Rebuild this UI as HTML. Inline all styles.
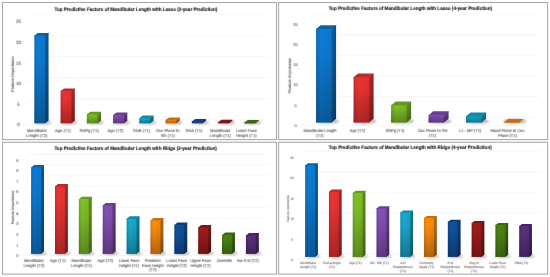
<!DOCTYPE html><html><head><meta charset="utf-8"><title>Top Predictive Factors of Mandibular Length</title>
<style>html,body{margin:0;padding:0;background:#fff}svg{display:block}text{font-family:"Liberation Sans",Arial,sans-serif;text-rendering:geometricPrecision;paint-order:stroke}</style></head><body>
<svg width="550" height="277" viewBox="0 0 550 277">
<defs><filter id="sh" x="-50%" y="-200%" width="200%" height="500%"><feGaussianBlur stdDeviation="1.1"/></filter>
<linearGradient id="g0" x1="0" y1="0" x2="1" y2="0"><stop offset="0" stop-color="#0c6bb8"/><stop offset="0.3" stop-color="#0e7cd6"/><stop offset="1" stop-color="#0d76cb"/></linearGradient><linearGradient id="s0" x1="0" y1="0" x2="1" y2="0"><stop offset="0" stop-color="#0b61a7"/><stop offset="1" stop-color="#094f89"/></linearGradient>
<linearGradient id="g1" x1="0" y1="0" x2="1" y2="0"><stop offset="0" stop-color="#cd2d2d"/><stop offset="0.3" stop-color="#ee3434"/><stop offset="1" stop-color="#e23131"/></linearGradient><linearGradient id="s1" x1="0" y1="0" x2="1" y2="0"><stop offset="0" stop-color="#ba2929"/><stop offset="1" stop-color="#982121"/></linearGradient>
<linearGradient id="g2" x1="0" y1="0" x2="1" y2="0"><stop offset="0" stop-color="#6ea722"/><stop offset="0.3" stop-color="#80c228"/><stop offset="1" stop-color="#7ab826"/></linearGradient><linearGradient id="s2" x1="0" y1="0" x2="1" y2="0"><stop offset="0" stop-color="#64971f"/><stop offset="1" stop-color="#527c1a"/></linearGradient>
<linearGradient id="g3" x1="0" y1="0" x2="1" y2="0"><stop offset="0" stop-color="#73459d"/><stop offset="0.3" stop-color="#8650b6"/><stop offset="1" stop-color="#7f4cad"/></linearGradient><linearGradient id="s3" x1="0" y1="0" x2="1" y2="0"><stop offset="0" stop-color="#693e8e"/><stop offset="1" stop-color="#563374"/></linearGradient>
<linearGradient id="g4" x1="0" y1="0" x2="1" y2="0"><stop offset="0" stop-color="#1594b3"/><stop offset="0.3" stop-color="#18acd0"/><stop offset="1" stop-color="#17a3c6"/></linearGradient><linearGradient id="s4" x1="0" y1="0" x2="1" y2="0"><stop offset="0" stop-color="#1386a2"/><stop offset="1" stop-color="#0f6e85"/></linearGradient>
<linearGradient id="g5" x1="0" y1="0" x2="1" y2="0"><stop offset="0" stop-color="#da7a0e"/><stop offset="0.3" stop-color="#fe8e10"/><stop offset="1" stop-color="#f1870f"/></linearGradient><linearGradient id="s5" x1="0" y1="0" x2="1" y2="0"><stop offset="0" stop-color="#c66f0c"/><stop offset="1" stop-color="#a35b0a"/></linearGradient>
<linearGradient id="g6" x1="0" y1="0" x2="1" y2="0"><stop offset="0" stop-color="#0e4788"/><stop offset="0.3" stop-color="#10529e"/><stop offset="1" stop-color="#0f4e96"/></linearGradient><linearGradient id="s6" x1="0" y1="0" x2="1" y2="0"><stop offset="0" stop-color="#0c407b"/><stop offset="1" stop-color="#0a3465"/></linearGradient>
<linearGradient id="g7" x1="0" y1="0" x2="1" y2="0"><stop offset="0" stop-color="#8a1818"/><stop offset="0.3" stop-color="#a01c1c"/><stop offset="1" stop-color="#981b1b"/></linearGradient><linearGradient id="s7" x1="0" y1="0" x2="1" y2="0"><stop offset="0" stop-color="#7d1616"/><stop offset="1" stop-color="#661212"/></linearGradient>
<linearGradient id="g8" x1="0" y1="0" x2="1" y2="0"><stop offset="0" stop-color="#437211"/><stop offset="0.3" stop-color="#4e8414"/><stop offset="1" stop-color="#4a7d13"/></linearGradient><linearGradient id="s8" x1="0" y1="0" x2="1" y2="0"><stop offset="0" stop-color="#3d6710"/><stop offset="1" stop-color="#32540d"/></linearGradient>
<linearGradient id="g9" x1="0" y1="0" x2="1" y2="0"><stop offset="0" stop-color="#4d296e"/><stop offset="0.3" stop-color="#5a3080"/><stop offset="1" stop-color="#562e7a"/></linearGradient><linearGradient id="s9" x1="0" y1="0" x2="1" y2="0"><stop offset="0" stop-color="#462564"/><stop offset="1" stop-color="#3a1f52"/></linearGradient>
<filter id="tb" x="-5%" y="-30%" width="110%" height="160%"><feGaussianBlur stdDeviation="0.6"/></filter>
<linearGradient id="dk" x1="0" y1="0" x2="0" y2="1"><stop offset="0" stop-color="#000" stop-opacity="0"/><stop offset="0.3" stop-color="#000" stop-opacity="0.03"/><stop offset="1" stop-color="#000" stop-opacity="0.28"/></linearGradient>
<filter id="soft" x="0" y="0" width="550" height="277" filterUnits="userSpaceOnUse" color-interpolation-filters="sRGB"><feConvolveMatrix order="3" kernelMatrix="0 1 0 1 5 1 0 1 0" divisor="9" edgeMode="duplicate" preserveAlpha="false"/></filter>
<filter id="soft2" x="0" y="0" width="550" height="277" filterUnits="userSpaceOnUse" color-interpolation-filters="sRGB"><feConvolveMatrix order="3" kernelMatrix="0 1 0 1 8 1 0 1 0" divisor="12" edgeMode="duplicate" preserveAlpha="false"/></filter>
</defs>
<rect width="550" height="277" fill="#fff"/>
<rect x="2.5" y="2.5" width="274" height="137.1" fill="#fff" stroke="#a8a8a8" stroke-width="1.05"/>
<rect x="278.6" y="2.5" width="269" height="137.1" fill="#fff" stroke="#a8a8a8" stroke-width="1.05"/>
<rect x="2.5" y="142.25" width="274" height="131.85" fill="#fff" stroke="#a8a8a8" stroke-width="1.05"/>
<rect x="278.6" y="142.25" width="269" height="131.85" fill="#fff" stroke="#a8a8a8" stroke-width="1.05"/>
<path d="M23.70 124.90 L32.70 119.80 L268.50 119.80" fill="none" stroke="#efefef" stroke-width="0.5"/>
<path d="M23.70 104.35 L32.70 98.70 L268.50 98.70" fill="none" stroke="#efefef" stroke-width="0.5"/>
<path d="M23.70 83.80 L32.70 77.60 L268.50 77.60" fill="none" stroke="#efefef" stroke-width="0.5"/>
<path d="M23.70 63.25 L32.70 56.50 L268.50 56.50" fill="none" stroke="#efefef" stroke-width="0.5"/>
<path d="M23.70 42.70 L32.70 35.40 L268.50 35.40" fill="none" stroke="#efefef" stroke-width="0.5"/>
<path d="M23.70 22.15 L32.70 14.30 L268.50 14.30" fill="none" stroke="#efefef" stroke-width="0.5"/>
<path d="M23.70 124.90 L259.50 124.90" fill="none" stroke="#efefef" stroke-width="0.5"/>
<ellipse cx="42.65" cy="122.55" rx="8.70" ry="1.75" fill="#5a4a42" opacity="0.42" filter="url(#sh)"/>
<path d="M34.35 36.20 L34.35 35.60 L37.85 33.10 L48.55 33.10 L48.55 33.70 L45.05 36.20Z" fill="#0b62a9"/>
<path d="M44.35 35.60 L45.05 35.60 L48.55 33.10 L48.55 120.80 L45.05 123.30 L44.35 123.30Z" fill="url(#s0)"/>
<rect x="34.35" y="35.60" width="10.70" height="87.70" fill="url(#g0)"/>
<path d="M34.35 35.60 L45.05 35.60 L48.55 33.10 L48.55 120.80 L45.05 123.30 L34.35 123.30Z" fill="url(#dk)"/>
<ellipse cx="68.90" cy="122.55" rx="8.70" ry="1.75" fill="#5a4a42" opacity="0.42" filter="url(#sh)"/>
<path d="M60.60 91.50 L60.60 90.90 L64.10 88.40 L74.80 88.40 L74.80 89.00 L71.30 91.50Z" fill="#bc2929"/>
<path d="M70.60 90.90 L71.30 90.90 L74.80 88.40 L74.80 120.80 L71.30 123.30 L70.60 123.30Z" fill="url(#s1)"/>
<rect x="60.60" y="90.90" width="10.70" height="32.40" fill="url(#g1)"/>
<path d="M60.60 90.90 L71.30 90.90 L74.80 88.40 L74.80 120.80 L71.30 123.30 L60.60 123.30Z" fill="url(#dk)"/>
<ellipse cx="95.15" cy="122.55" rx="8.70" ry="1.75" fill="#5a4a42" opacity="0.42" filter="url(#sh)"/>
<path d="M86.85 114.90 L86.85 114.30 L90.35 111.80 L101.05 111.80 L101.05 112.40 L97.55 114.90Z" fill="#659920"/>
<path d="M96.85 114.30 L97.55 114.30 L101.05 111.80 L101.05 120.80 L97.55 123.30 L96.85 123.30Z" fill="url(#s2)"/>
<rect x="86.85" y="114.30" width="10.70" height="9.00" fill="url(#g2)"/>
<path d="M86.85 114.30 L97.55 114.30 L101.05 111.80 L101.05 120.80 L97.55 123.30 L86.85 123.30Z" fill="url(#dk)"/>
<ellipse cx="121.40" cy="122.55" rx="8.70" ry="1.75" fill="#5a4a42" opacity="0.42" filter="url(#sh)"/>
<path d="M113.10 115.60 L113.10 115.00 L116.60 112.50 L127.30 112.50 L127.30 113.10 L123.80 115.60Z" fill="#6a3f90"/>
<path d="M123.10 115.00 L123.80 115.00 L127.30 112.50 L127.30 120.80 L123.80 123.30 L123.10 123.30Z" fill="url(#s3)"/>
<rect x="113.10" y="115.00" width="10.70" height="8.30" fill="url(#g3)"/>
<path d="M113.10 115.00 L123.80 115.00 L127.30 112.50 L127.30 120.80 L123.80 123.30 L113.10 123.30Z" fill="url(#dk)"/>
<ellipse cx="147.65" cy="122.55" rx="8.70" ry="1.75" fill="#5a4a42" opacity="0.42" filter="url(#sh)"/>
<path d="M139.35 118.60 L139.35 118.00 L142.85 115.50 L153.55 115.50 L153.55 116.10 L150.05 118.60Z" fill="#1388a4"/>
<path d="M149.35 118.00 L150.05 118.00 L153.55 115.50 L153.55 120.80 L150.05 123.30 L149.35 123.30Z" fill="url(#s4)"/>
<rect x="139.35" y="118.00" width="10.70" height="5.30" fill="url(#g4)"/>
<path d="M139.35 118.00 L150.05 118.00 L153.55 115.50 L153.55 120.80 L150.05 123.30 L139.35 123.30Z" fill="url(#dk)"/>
<ellipse cx="173.90" cy="122.55" rx="8.70" ry="1.75" fill="#5a4a42" opacity="0.42" filter="url(#sh)"/>
<path d="M165.60 120.60 L165.60 120.00 L169.10 117.50 L179.80 117.50 L179.80 118.10 L176.30 120.60Z" fill="#c9700d"/>
<path d="M175.60 120.00 L176.30 120.00 L179.80 117.50 L179.80 120.80 L176.30 123.30 L175.60 123.30Z" fill="url(#s5)"/>
<rect x="165.60" y="120.00" width="10.70" height="3.30" fill="url(#g5)"/>
<path d="M165.60 120.00 L176.30 120.00 L179.80 117.50 L179.80 120.80 L176.30 123.30 L165.60 123.30Z" fill="url(#dk)"/>
<ellipse cx="200.15" cy="122.55" rx="8.70" ry="1.75" fill="#5a4a42" opacity="0.42" filter="url(#sh)"/>
<path d="M191.85 122.00 L191.85 121.40 L195.35 118.90 L206.05 118.90 L206.05 119.50 L202.55 122.00Z" fill="#0d417d"/>
<path d="M201.85 121.40 L202.55 121.40 L206.05 118.90 L206.05 120.80 L202.55 123.30 L201.85 123.30Z" fill="url(#s6)"/>
<rect x="191.85" y="121.40" width="10.70" height="1.90" fill="url(#g6)"/>
<path d="M191.85 121.40 L202.55 121.40 L206.05 118.90 L206.05 120.80 L202.55 123.30 L191.85 123.30Z" fill="url(#dk)"/>
<ellipse cx="226.40" cy="122.55" rx="8.70" ry="1.75" fill="#5a4a42" opacity="0.42" filter="url(#sh)"/>
<path d="M218.10 122.90 L218.10 122.30 L221.60 119.80 L232.30 119.80 L232.30 120.40 L228.80 122.90Z" fill="#7e1616"/>
<path d="M228.10 122.30 L228.80 122.30 L232.30 119.80 L232.30 120.80 L228.80 123.30 L228.10 123.30Z" fill="url(#s7)"/>
<rect x="218.10" y="122.30" width="10.70" height="1.00" fill="url(#g7)"/>
<path d="M218.10 122.30 L228.80 122.30 L232.30 119.80 L232.30 120.80 L228.80 123.30 L218.10 123.30Z" fill="url(#dk)"/>
<ellipse cx="252.65" cy="122.55" rx="8.70" ry="1.75" fill="#5a4a42" opacity="0.42" filter="url(#sh)"/>
<path d="M244.35 123.20 L244.35 122.60 L247.85 120.10 L258.55 120.10 L258.55 120.70 L255.05 123.20Z" fill="#3e6810"/>
<path d="M254.35 122.60 L255.05 122.60 L258.55 120.10 L258.55 120.80 L255.05 123.30 L254.35 123.30Z" fill="url(#s8)"/>
<rect x="244.35" y="122.60" width="10.70" height="0.70" fill="url(#g8)"/>
<path d="M244.35 122.60 L255.05 122.60 L258.55 120.10 L258.55 120.80 L255.05 123.30 L244.35 123.30Z" fill="url(#dk)"/>
<path d="M301.25 125.40 L314.00 117.30 L539.00 117.30" fill="none" stroke="#efefef" stroke-width="0.5"/>
<path d="M301.25 105.20 L314.00 96.68 L539.00 96.68" fill="none" stroke="#efefef" stroke-width="0.5"/>
<path d="M301.25 85.00 L314.00 76.06 L539.00 76.06" fill="none" stroke="#efefef" stroke-width="0.5"/>
<path d="M301.25 64.80 L314.00 55.44 L539.00 55.44" fill="none" stroke="#efefef" stroke-width="0.5"/>
<path d="M301.25 44.60 L314.00 34.82 L539.00 34.82" fill="none" stroke="#efefef" stroke-width="0.5"/>
<path d="M301.25 24.40 L314.00 14.20 L539.00 14.20" fill="none" stroke="#efefef" stroke-width="0.5"/>
<path d="M301.25 125.40 L526.25 125.40" fill="none" stroke="#efefef" stroke-width="0.5"/>
<ellipse cx="327.27" cy="121.15" rx="11.62" ry="2.45" fill="#5a4a42" opacity="0.42" filter="url(#sh)"/>
<path d="M316.05 29.70 L316.05 29.10 L320.65 25.20 L336.10 25.20 L336.10 25.80 L331.50 29.70Z" fill="#0b62a9"/>
<path d="M330.80 29.10 L331.50 29.10 L336.10 25.20 L336.10 118.70 L331.50 122.60 L330.80 122.60Z" fill="url(#s0)"/>
<rect x="316.05" y="29.10" width="15.45" height="93.50" fill="url(#g0)"/>
<path d="M316.05 29.10 L331.50 29.10 L336.10 25.20 L336.10 118.70 L331.50 122.60 L316.05 122.60Z" fill="url(#dk)"/>
<ellipse cx="364.77" cy="121.15" rx="11.62" ry="2.45" fill="#5a4a42" opacity="0.42" filter="url(#sh)"/>
<path d="M353.55 77.90 L353.55 77.30 L358.15 73.40 L373.60 73.40 L373.60 74.00 L369.00 77.90Z" fill="#bc2929"/>
<path d="M368.30 77.30 L369.00 77.30 L373.60 73.40 L373.60 118.70 L369.00 122.60 L368.30 122.60Z" fill="url(#s1)"/>
<rect x="353.55" y="77.30" width="15.45" height="45.30" fill="url(#g1)"/>
<path d="M353.55 77.30 L369.00 77.30 L373.60 73.40 L373.60 118.70 L369.00 122.60 L353.55 122.60Z" fill="url(#dk)"/>
<ellipse cx="402.27" cy="121.15" rx="11.62" ry="2.45" fill="#5a4a42" opacity="0.42" filter="url(#sh)"/>
<path d="M391.05 106.00 L391.05 105.40 L395.65 101.50 L411.10 101.50 L411.10 102.10 L406.50 106.00Z" fill="#659920"/>
<path d="M405.80 105.40 L406.50 105.40 L411.10 101.50 L411.10 118.70 L406.50 122.60 L405.80 122.60Z" fill="url(#s2)"/>
<rect x="391.05" y="105.40" width="15.45" height="17.20" fill="url(#g2)"/>
<path d="M391.05 105.40 L406.50 105.40 L411.10 101.50 L411.10 118.70 L406.50 122.60 L391.05 122.60Z" fill="url(#dk)"/>
<ellipse cx="439.77" cy="121.15" rx="11.62" ry="2.45" fill="#5a4a42" opacity="0.42" filter="url(#sh)"/>
<path d="M428.55 115.80 L428.55 115.20 L433.15 111.30 L448.60 111.30 L448.60 111.90 L444.00 115.80Z" fill="#6a3f90"/>
<path d="M443.30 115.20 L444.00 115.20 L448.60 111.30 L448.60 118.70 L444.00 122.60 L443.30 122.60Z" fill="url(#s3)"/>
<rect x="428.55" y="115.20" width="15.45" height="7.40" fill="url(#g3)"/>
<path d="M428.55 115.20 L444.00 115.20 L448.60 111.30 L448.60 118.70 L444.00 122.60 L428.55 122.60Z" fill="url(#dk)"/>
<ellipse cx="477.27" cy="121.15" rx="11.62" ry="2.45" fill="#5a4a42" opacity="0.42" filter="url(#sh)"/>
<path d="M466.05 116.90 L466.05 116.30 L470.65 112.40 L486.10 112.40 L486.10 113.00 L481.50 116.90Z" fill="#1388a4"/>
<path d="M480.80 116.30 L481.50 116.30 L486.10 112.40 L486.10 118.70 L481.50 122.60 L480.80 122.60Z" fill="url(#s4)"/>
<rect x="466.05" y="116.30" width="15.45" height="6.30" fill="url(#g4)"/>
<path d="M466.05 116.30 L481.50 116.30 L486.10 112.40 L486.10 118.70 L481.50 122.60 L466.05 122.60Z" fill="url(#dk)"/>
<ellipse cx="514.78" cy="121.15" rx="11.62" ry="2.45" fill="#5a4a42" opacity="0.42" filter="url(#sh)"/>
<path d="M503.55 122.80 L503.55 122.80 L508.15 118.90 L523.60 118.90 L523.60 118.90 L519.00 122.80Z" fill="#c9700d"/>
<path d="M22.00 255.70 L30.40 250.30 L268.40 250.30" fill="none" stroke="#efefef" stroke-width="0.5"/>
<path d="M22.00 245.08 L30.40 239.59 L268.40 239.59" fill="none" stroke="#efefef" stroke-width="0.5"/>
<path d="M22.00 234.46 L30.40 228.88 L268.40 228.88" fill="none" stroke="#efefef" stroke-width="0.5"/>
<path d="M22.00 223.84 L30.40 218.17 L268.40 218.17" fill="none" stroke="#efefef" stroke-width="0.5"/>
<path d="M22.00 213.22 L30.40 207.46 L268.40 207.46" fill="none" stroke="#efefef" stroke-width="0.5"/>
<path d="M22.00 202.60 L30.40 196.75 L268.40 196.75" fill="none" stroke="#efefef" stroke-width="0.5"/>
<path d="M22.00 191.98 L30.40 186.04 L268.40 186.04" fill="none" stroke="#efefef" stroke-width="0.5"/>
<path d="M22.00 181.36 L30.40 175.33 L268.40 175.33" fill="none" stroke="#efefef" stroke-width="0.5"/>
<path d="M22.00 170.74 L30.40 164.62 L268.40 164.62" fill="none" stroke="#efefef" stroke-width="0.5"/>
<path d="M22.00 160.12 L30.40 153.91 L268.40 153.91" fill="none" stroke="#efefef" stroke-width="0.5"/>
<path d="M22.00 255.70 L260.00 255.70" fill="none" stroke="#efefef" stroke-width="0.5"/>
<ellipse cx="38.75" cy="253.15" rx="8.05" ry="1.75" fill="#5a4a42" opacity="0.42" filter="url(#sh)"/>
<path d="M31.10 168.10 L31.10 167.50 L34.20 165.00 L44.00 165.00 L44.00 165.60 L40.90 168.10Z" fill="#0b62a9"/>
<path d="M40.20 167.50 L40.90 167.50 L44.00 165.00 L44.00 251.40 L40.90 253.90 L40.20 253.90Z" fill="url(#s0)"/>
<rect x="31.10" y="167.50" width="9.80" height="86.40" fill="url(#g0)"/>
<path d="M31.10 167.50 L40.90 167.50 L44.00 165.00 L44.00 251.40 L40.90 253.90 L31.10 253.90Z" fill="url(#dk)"/>
<ellipse cx="62.62" cy="253.15" rx="8.05" ry="1.75" fill="#5a4a42" opacity="0.42" filter="url(#sh)"/>
<path d="M54.97 187.20 L54.97 186.60 L58.07 184.10 L67.87 184.10 L67.87 184.70 L64.77 187.20Z" fill="#bc2929"/>
<path d="M64.07 186.60 L64.77 186.60 L67.87 184.10 L67.87 251.40 L64.77 253.90 L64.07 253.90Z" fill="url(#s1)"/>
<rect x="54.97" y="186.60" width="9.80" height="67.30" fill="url(#g1)"/>
<path d="M54.97 186.60 L64.77 186.60 L67.87 184.10 L67.87 251.40 L64.77 253.90 L54.97 253.90Z" fill="url(#dk)"/>
<ellipse cx="86.49" cy="253.15" rx="8.05" ry="1.75" fill="#5a4a42" opacity="0.42" filter="url(#sh)"/>
<path d="M78.84 199.80 L78.84 199.20 L81.94 196.70 L91.74 196.70 L91.74 197.30 L88.64 199.80Z" fill="#659920"/>
<path d="M87.94 199.20 L88.64 199.20 L91.74 196.70 L91.74 251.40 L88.64 253.90 L87.94 253.90Z" fill="url(#s2)"/>
<rect x="78.84" y="199.20" width="9.80" height="54.70" fill="url(#g2)"/>
<path d="M78.84 199.20 L88.64 199.20 L91.74 196.70 L91.74 251.40 L88.64 253.90 L78.84 253.90Z" fill="url(#dk)"/>
<ellipse cx="110.36" cy="253.15" rx="8.05" ry="1.75" fill="#5a4a42" opacity="0.42" filter="url(#sh)"/>
<path d="M102.71 206.10 L102.71 205.50 L105.81 203.00 L115.61 203.00 L115.61 203.60 L112.51 206.10Z" fill="#6a3f90"/>
<path d="M111.81 205.50 L112.51 205.50 L115.61 203.00 L115.61 251.40 L112.51 253.90 L111.81 253.90Z" fill="url(#s3)"/>
<rect x="102.71" y="205.50" width="9.80" height="48.40" fill="url(#g3)"/>
<path d="M102.71 205.50 L112.51 205.50 L115.61 203.00 L115.61 251.40 L112.51 253.90 L102.71 253.90Z" fill="url(#dk)"/>
<ellipse cx="134.23" cy="253.15" rx="8.05" ry="1.75" fill="#5a4a42" opacity="0.42" filter="url(#sh)"/>
<path d="M126.58 219.40 L126.58 218.80 L129.68 216.30 L139.48 216.30 L139.48 216.90 L136.38 219.40Z" fill="#1388a4"/>
<path d="M135.68 218.80 L136.38 218.80 L139.48 216.30 L139.48 251.40 L136.38 253.90 L135.68 253.90Z" fill="url(#s4)"/>
<rect x="126.58" y="218.80" width="9.80" height="35.10" fill="url(#g4)"/>
<path d="M126.58 218.80 L136.38 218.80 L139.48 216.30 L139.48 251.40 L136.38 253.90 L126.58 253.90Z" fill="url(#dk)"/>
<ellipse cx="158.10" cy="253.15" rx="8.05" ry="1.75" fill="#5a4a42" opacity="0.42" filter="url(#sh)"/>
<path d="M150.45 221.10 L150.45 220.50 L153.55 218.00 L163.35 218.00 L163.35 218.60 L160.25 221.10Z" fill="#c9700d"/>
<path d="M159.55 220.50 L160.25 220.50 L163.35 218.00 L163.35 251.40 L160.25 253.90 L159.55 253.90Z" fill="url(#s5)"/>
<rect x="150.45" y="220.50" width="9.80" height="33.40" fill="url(#g5)"/>
<path d="M150.45 220.50 L160.25 220.50 L163.35 218.00 L163.35 251.40 L160.25 253.90 L150.45 253.90Z" fill="url(#dk)"/>
<ellipse cx="181.97" cy="253.15" rx="8.05" ry="1.75" fill="#5a4a42" opacity="0.42" filter="url(#sh)"/>
<path d="M174.32 225.70 L174.32 225.10 L177.42 222.60 L187.22 222.60 L187.22 223.20 L184.12 225.70Z" fill="#0d417d"/>
<path d="M183.42 225.10 L184.12 225.10 L187.22 222.60 L187.22 251.40 L184.12 253.90 L183.42 253.90Z" fill="url(#s6)"/>
<rect x="174.32" y="225.10" width="9.80" height="28.80" fill="url(#g6)"/>
<path d="M174.32 225.10 L184.12 225.10 L187.22 222.60 L187.22 251.40 L184.12 253.90 L174.32 253.90Z" fill="url(#dk)"/>
<ellipse cx="205.84" cy="253.15" rx="8.05" ry="1.75" fill="#5a4a42" opacity="0.42" filter="url(#sh)"/>
<path d="M198.19 228.20 L198.19 227.60 L201.29 225.10 L211.09 225.10 L211.09 225.70 L207.99 228.20Z" fill="#7e1616"/>
<path d="M207.29 227.60 L207.99 227.60 L211.09 225.10 L211.09 251.40 L207.99 253.90 L207.29 253.90Z" fill="url(#s7)"/>
<rect x="198.19" y="227.60" width="9.80" height="26.30" fill="url(#g7)"/>
<path d="M198.19 227.60 L207.99 227.60 L211.09 225.10 L211.09 251.40 L207.99 253.90 L198.19 253.90Z" fill="url(#dk)"/>
<ellipse cx="229.71" cy="253.15" rx="8.05" ry="1.75" fill="#5a4a42" opacity="0.42" filter="url(#sh)"/>
<path d="M222.06 235.70 L222.06 235.10 L225.16 232.60 L234.96 232.60 L234.96 233.20 L231.86 235.70Z" fill="#3e6810"/>
<path d="M231.16 235.10 L231.86 235.10 L234.96 232.60 L234.96 251.40 L231.86 253.90 L231.16 253.90Z" fill="url(#s8)"/>
<rect x="222.06" y="235.10" width="9.80" height="18.80" fill="url(#g8)"/>
<path d="M222.06 235.10 L231.86 235.10 L234.96 232.60 L234.96 251.40 L231.86 253.90 L222.06 253.90Z" fill="url(#dk)"/>
<ellipse cx="253.58" cy="253.15" rx="8.05" ry="1.75" fill="#5a4a42" opacity="0.42" filter="url(#sh)"/>
<path d="M245.93 236.20 L245.93 235.60 L249.03 233.10 L258.83 233.10 L258.83 233.70 L255.73 236.20Z" fill="#472665"/>
<path d="M255.03 235.60 L255.73 235.60 L258.83 233.10 L258.83 251.40 L255.73 253.90 L255.03 253.90Z" fill="url(#s9)"/>
<rect x="245.93" y="235.60" width="9.80" height="18.30" fill="url(#g9)"/>
<path d="M245.93 235.60 L255.73 235.60 L258.83 233.10 L258.83 251.40 L255.73 253.90 L245.93 253.90Z" fill="url(#dk)"/>
<path d="M296.25 259.90 L304.45 253.80 L541.45 253.80" fill="none" stroke="#efefef" stroke-width="0.5"/>
<path d="M296.25 239.48 L304.45 233.25 L541.45 233.25" fill="none" stroke="#efefef" stroke-width="0.5"/>
<path d="M296.25 219.06 L304.45 212.70 L541.45 212.70" fill="none" stroke="#efefef" stroke-width="0.5"/>
<path d="M296.25 198.64 L304.45 192.15 L541.45 192.15" fill="none" stroke="#efefef" stroke-width="0.5"/>
<path d="M296.25 178.22 L304.45 171.60 L541.45 171.60" fill="none" stroke="#efefef" stroke-width="0.5"/>
<path d="M296.25 157.80 L304.45 151.05 L541.45 151.05" fill="none" stroke="#efefef" stroke-width="0.5"/>
<path d="M296.25 259.90 L533.25 259.90" fill="none" stroke="#efefef" stroke-width="0.5"/>
<ellipse cx="312.72" cy="256.35" rx="7.97" ry="1.55" fill="#5a4a42" opacity="0.42" filter="url(#sh)"/>
<path d="M305.15 165.90 L305.15 165.30 L308.10 163.20 L317.90 163.20 L317.90 163.80 L314.95 165.90Z" fill="#0b62a9"/>
<path d="M314.25 165.30 L314.95 165.30 L317.90 163.20 L317.90 254.80 L314.95 256.90 L314.25 256.90Z" fill="url(#s0)"/>
<rect x="305.15" y="165.30" width="9.80" height="91.60" fill="url(#g0)"/>
<path d="M305.15 165.30 L314.95 165.30 L317.90 163.20 L317.90 254.80 L314.95 256.90 L305.15 256.90Z" fill="url(#dk)"/>
<ellipse cx="336.50" cy="256.35" rx="7.97" ry="1.55" fill="#5a4a42" opacity="0.42" filter="url(#sh)"/>
<path d="M328.93 192.30 L328.93 191.70 L331.88 189.60 L341.68 189.60 L341.68 190.20 L338.73 192.30Z" fill="#bc2929"/>
<path d="M338.03 191.70 L338.73 191.70 L341.68 189.60 L341.68 254.80 L338.73 256.90 L338.03 256.90Z" fill="url(#s1)"/>
<rect x="328.93" y="191.70" width="9.80" height="65.20" fill="url(#g1)"/>
<path d="M328.93 191.70 L338.73 191.70 L341.68 189.60 L341.68 254.80 L338.73 256.90 L328.93 256.90Z" fill="url(#dk)"/>
<ellipse cx="360.28" cy="256.35" rx="7.97" ry="1.55" fill="#5a4a42" opacity="0.42" filter="url(#sh)"/>
<path d="M352.71 193.50 L352.71 192.90 L355.66 190.80 L365.46 190.80 L365.46 191.40 L362.51 193.50Z" fill="#659920"/>
<path d="M361.81 192.90 L362.51 192.90 L365.46 190.80 L365.46 254.80 L362.51 256.90 L361.81 256.90Z" fill="url(#s2)"/>
<rect x="352.71" y="192.90" width="9.80" height="64.00" fill="url(#g2)"/>
<path d="M352.71 192.90 L362.51 192.90 L365.46 190.80 L365.46 254.80 L362.51 256.90 L352.71 256.90Z" fill="url(#dk)"/>
<ellipse cx="384.06" cy="256.35" rx="7.97" ry="1.55" fill="#5a4a42" opacity="0.42" filter="url(#sh)"/>
<path d="M376.49 209.00 L376.49 208.40 L379.44 206.30 L389.24 206.30 L389.24 206.90 L386.29 209.00Z" fill="#6a3f90"/>
<path d="M385.59 208.40 L386.29 208.40 L389.24 206.30 L389.24 254.80 L386.29 256.90 L385.59 256.90Z" fill="url(#s3)"/>
<rect x="376.49" y="208.40" width="9.80" height="48.50" fill="url(#g3)"/>
<path d="M376.49 208.40 L386.29 208.40 L389.24 206.30 L389.24 254.80 L386.29 256.90 L376.49 256.90Z" fill="url(#dk)"/>
<ellipse cx="407.84" cy="256.35" rx="7.97" ry="1.55" fill="#5a4a42" opacity="0.42" filter="url(#sh)"/>
<path d="M400.27 213.20 L400.27 212.60 L403.22 210.50 L413.02 210.50 L413.02 211.10 L410.07 213.20Z" fill="#1388a4"/>
<path d="M409.37 212.60 L410.07 212.60 L413.02 210.50 L413.02 254.80 L410.07 256.90 L409.37 256.90Z" fill="url(#s4)"/>
<rect x="400.27" y="212.60" width="9.80" height="44.30" fill="url(#g4)"/>
<path d="M400.27 212.60 L410.07 212.60 L413.02 210.50 L413.02 254.80 L410.07 256.90 L400.27 256.90Z" fill="url(#dk)"/>
<ellipse cx="431.62" cy="256.35" rx="7.97" ry="1.55" fill="#5a4a42" opacity="0.42" filter="url(#sh)"/>
<path d="M424.05 218.60 L424.05 218.00 L427.00 215.90 L436.80 215.90 L436.80 216.50 L433.85 218.60Z" fill="#c9700d"/>
<path d="M433.15 218.00 L433.85 218.00 L436.80 215.90 L436.80 254.80 L433.85 256.90 L433.15 256.90Z" fill="url(#s5)"/>
<rect x="424.05" y="218.00" width="9.80" height="38.90" fill="url(#g5)"/>
<path d="M424.05 218.00 L433.85 218.00 L436.80 215.90 L436.80 254.80 L433.85 256.90 L424.05 256.90Z" fill="url(#dk)"/>
<ellipse cx="455.40" cy="256.35" rx="7.97" ry="1.55" fill="#5a4a42" opacity="0.42" filter="url(#sh)"/>
<path d="M447.83 222.40 L447.83 221.80 L450.78 219.70 L460.58 219.70 L460.58 220.30 L457.63 222.40Z" fill="#0d417d"/>
<path d="M456.93 221.80 L457.63 221.80 L460.58 219.70 L460.58 254.80 L457.63 256.90 L456.93 256.90Z" fill="url(#s6)"/>
<rect x="447.83" y="221.80" width="9.80" height="35.10" fill="url(#g6)"/>
<path d="M447.83 221.80 L457.63 221.80 L460.58 219.70 L460.58 254.80 L457.63 256.90 L447.83 256.90Z" fill="url(#dk)"/>
<ellipse cx="479.19" cy="256.35" rx="7.97" ry="1.55" fill="#5a4a42" opacity="0.42" filter="url(#sh)"/>
<path d="M471.61 223.60 L471.61 223.00 L474.56 220.90 L484.36 220.90 L484.36 221.50 L481.41 223.60Z" fill="#7e1616"/>
<path d="M480.71 223.00 L481.41 223.00 L484.36 220.90 L484.36 254.80 L481.41 256.90 L480.71 256.90Z" fill="url(#s7)"/>
<rect x="471.61" y="223.00" width="9.80" height="33.90" fill="url(#g7)"/>
<path d="M471.61 223.00 L481.41 223.00 L484.36 220.90 L484.36 254.80 L481.41 256.90 L471.61 256.90Z" fill="url(#dk)"/>
<ellipse cx="502.96" cy="256.35" rx="7.97" ry="1.55" fill="#5a4a42" opacity="0.42" filter="url(#sh)"/>
<path d="M495.39 225.60 L495.39 225.00 L498.34 222.90 L508.14 222.90 L508.14 223.50 L505.19 225.60Z" fill="#3e6810"/>
<path d="M504.49 225.00 L505.19 225.00 L508.14 222.90 L508.14 254.80 L505.19 256.90 L504.49 256.90Z" fill="url(#s8)"/>
<rect x="495.39" y="225.00" width="9.80" height="31.90" fill="url(#g8)"/>
<path d="M495.39 225.00 L505.19 225.00 L508.14 222.90 L508.14 254.80 L505.19 256.90 L495.39 256.90Z" fill="url(#dk)"/>
<ellipse cx="526.75" cy="256.35" rx="7.97" ry="1.55" fill="#5a4a42" opacity="0.42" filter="url(#sh)"/>
<path d="M519.17 226.60 L519.17 226.00 L522.12 223.90 L531.92 223.90 L531.92 224.50 L528.97 226.60Z" fill="#472665"/>
<path d="M528.27 226.00 L528.97 226.00 L531.92 223.90 L531.92 254.80 L528.97 256.90 L528.27 256.90Z" fill="url(#s9)"/>
<rect x="519.17" y="226.00" width="9.80" height="30.90" fill="url(#g9)"/>
<path d="M519.17 226.00 L528.97 226.00 L531.92 223.90 L531.92 254.80 L528.97 256.90 L519.17 256.90Z" fill="url(#dk)"/>
<g filter="url(#soft)">
<text x="18.5" y="126.22" font-size="4.5" fill="#555555" stroke="#555555" stroke-width="0.1" text-anchor="middle">0</text>
<text x="18.5" y="105.67" font-size="4.5" fill="#555555" stroke="#555555" stroke-width="0.1" text-anchor="middle">5</text>
<text x="18.5" y="85.12" font-size="4.5" fill="#555555" stroke="#555555" stroke-width="0.1" text-anchor="middle">10</text>
<text x="18.5" y="64.57" font-size="4.5" fill="#555555" stroke="#555555" stroke-width="0.1" text-anchor="middle">15</text>
<text x="18.5" y="44.02" font-size="4.5" fill="#555555" stroke="#555555" stroke-width="0.1" text-anchor="middle">20</text>
<text x="18.5" y="23.47" font-size="4.5" fill="#555555" stroke="#555555" stroke-width="0.1" text-anchor="middle">25</text>
<text transform="translate(12.9 74.10) rotate(-90)" font-size="4.05" fill="#555555" stroke="#555555" stroke-width="0.1" text-anchor="middle" dy="1.46">Feature Importance</text>
<text x="36.80" y="131.98" font-size="4.1" fill="#555555" stroke="#555555" stroke-width="0.1" text-anchor="middle">Mandibular</text>
<text x="36.80" y="136.88" font-size="4.1" fill="#555555" stroke="#555555" stroke-width="0.1" text-anchor="middle">Length (T2)</text>
<text x="63.00" y="131.98" font-size="4.1" fill="#555555" stroke="#555555" stroke-width="0.1" text-anchor="middle">Age (T1)</text>
<text x="89.20" y="131.98" font-size="4.1" fill="#555555" stroke="#555555" stroke-width="0.1" text-anchor="middle">SNPg (T1)</text>
<text x="115.40" y="131.98" font-size="4.1" fill="#555555" stroke="#555555" stroke-width="0.1" text-anchor="middle">Age (T2)</text>
<text x="141.60" y="131.98" font-size="4.1" fill="#555555" stroke="#555555" stroke-width="0.1" text-anchor="middle">SNB (T1)</text>
<text x="167.80" y="131.98" font-size="4.1" fill="#555555" stroke="#555555" stroke-width="0.1" text-anchor="middle">Occ Plane to</text>
<text x="167.80" y="136.88" font-size="4.1" fill="#555555" stroke="#555555" stroke-width="0.1" text-anchor="middle">SN (T1)</text>
<text x="194.00" y="131.98" font-size="4.1" fill="#555555" stroke="#555555" stroke-width="0.1" text-anchor="middle">SNA (T1)</text>
<text x="220.20" y="131.98" font-size="4.1" fill="#555555" stroke="#555555" stroke-width="0.1" text-anchor="middle">Mandibular</text>
<text x="220.20" y="136.88" font-size="4.1" fill="#555555" stroke="#555555" stroke-width="0.1" text-anchor="middle">Length (T1)</text>
<text x="246.40" y="131.98" font-size="4.1" fill="#555555" stroke="#555555" stroke-width="0.1" text-anchor="middle">Lower Face</text>
<text x="246.40" y="136.88" font-size="4.1" fill="#555555" stroke="#555555" stroke-width="0.1" text-anchor="middle">Height (T1)</text>
<text x="295.5" y="126.84" font-size="4.0" fill="#555555" stroke="#555555" stroke-width="0.1" text-anchor="middle">0</text>
<text x="295.5" y="106.64" font-size="4.0" fill="#555555" stroke="#555555" stroke-width="0.1" text-anchor="middle">5</text>
<text x="295.5" y="86.44" font-size="4.0" fill="#555555" stroke="#555555" stroke-width="0.1" text-anchor="middle">10</text>
<text x="295.5" y="66.24" font-size="4.0" fill="#555555" stroke="#555555" stroke-width="0.1" text-anchor="middle">15</text>
<text x="295.5" y="46.04" font-size="4.0" fill="#555555" stroke="#555555" stroke-width="0.1" text-anchor="middle">20</text>
<text x="295.5" y="25.84" font-size="4.0" fill="#555555" stroke="#555555" stroke-width="0.1" text-anchor="middle">25</text>
<text transform="translate(289.6 75.40) rotate(-90)" font-size="4.0" fill="#555555" stroke="#555555" stroke-width="0.1" text-anchor="middle" dy="1.44">Feature Importance</text>
<text x="320.00" y="131.94" font-size="4.0" fill="#555555" stroke="#555555" stroke-width="0.1" text-anchor="middle">Mandibular Length</text>
<text x="320.00" y="136.74" font-size="4.0" fill="#555555" stroke="#555555" stroke-width="0.1" text-anchor="middle">(T1)</text>
<text x="357.50" y="131.94" font-size="4.0" fill="#555555" stroke="#555555" stroke-width="0.1" text-anchor="middle">Age (T1)</text>
<text x="395.00" y="131.94" font-size="4.0" fill="#555555" stroke="#555555" stroke-width="0.1" text-anchor="middle">SNPg (T1)</text>
<text x="432.50" y="131.94" font-size="4.0" fill="#555555" stroke="#555555" stroke-width="0.1" text-anchor="middle">Occ Plane to SN</text>
<text x="432.50" y="136.74" font-size="4.0" fill="#555555" stroke="#555555" stroke-width="0.1" text-anchor="middle">(T1)</text>
<text x="470.00" y="131.94" font-size="4.0" fill="#555555" stroke="#555555" stroke-width="0.1" text-anchor="middle">L1 - MP (T1)</text>
<text x="507.50" y="131.94" font-size="4.0" fill="#555555" stroke="#555555" stroke-width="0.1" text-anchor="middle">Mand Plane to Occ</text>
<text x="507.50" y="136.74" font-size="4.0" fill="#555555" stroke="#555555" stroke-width="0.1" text-anchor="middle">Plane (T1)</text>
<text x="17.4" y="257.14" font-size="4.0" fill="#555555" stroke="#555555" stroke-width="0.1" text-anchor="middle">0</text>
<text x="17.4" y="246.52" font-size="4.0" fill="#555555" stroke="#555555" stroke-width="0.1" text-anchor="middle">1</text>
<text x="17.4" y="235.90" font-size="4.0" fill="#555555" stroke="#555555" stroke-width="0.1" text-anchor="middle">2</text>
<text x="17.4" y="225.28" font-size="4.0" fill="#555555" stroke="#555555" stroke-width="0.1" text-anchor="middle">3</text>
<text x="17.4" y="214.66" font-size="4.0" fill="#555555" stroke="#555555" stroke-width="0.1" text-anchor="middle">4</text>
<text x="17.4" y="204.04" font-size="4.0" fill="#555555" stroke="#555555" stroke-width="0.1" text-anchor="middle">5</text>
<text x="17.4" y="193.42" font-size="4.0" fill="#555555" stroke="#555555" stroke-width="0.1" text-anchor="middle">6</text>
<text x="17.4" y="182.80" font-size="4.0" fill="#555555" stroke="#555555" stroke-width="0.1" text-anchor="middle">7</text>
<text x="17.4" y="172.18" font-size="4.0" fill="#555555" stroke="#555555" stroke-width="0.1" text-anchor="middle">8</text>
<text x="17.4" y="161.56" font-size="4.0" fill="#555555" stroke="#555555" stroke-width="0.1" text-anchor="middle">9</text>
<text transform="translate(12.8 207.40) rotate(-90)" font-size="3.85" fill="#555555" stroke="#555555" stroke-width="0.1" text-anchor="middle" dy="1.39">Feature Importance</text>
<text x="33.90" y="262.34" font-size="4.0" fill="#555555" stroke="#555555" stroke-width="0.1" text-anchor="middle">Mandibular</text>
<text x="33.90" y="266.74" font-size="4.0" fill="#555555" stroke="#555555" stroke-width="0.1" text-anchor="middle">Length (T2)</text>
<text x="57.70" y="262.34" font-size="4.0" fill="#555555" stroke="#555555" stroke-width="0.1" text-anchor="middle">Age (T1)</text>
<text x="81.50" y="262.34" font-size="4.0" fill="#555555" stroke="#555555" stroke-width="0.1" text-anchor="middle">Mandibular</text>
<text x="81.50" y="266.74" font-size="4.0" fill="#555555" stroke="#555555" stroke-width="0.1" text-anchor="middle">Length (T1)</text>
<text x="105.30" y="262.34" font-size="4.0" fill="#555555" stroke="#555555" stroke-width="0.1" text-anchor="middle">Age (T2)</text>
<text x="129.10" y="262.34" font-size="4.0" fill="#555555" stroke="#555555" stroke-width="0.1" text-anchor="middle">Lower Face</text>
<text x="129.10" y="266.74" font-size="4.0" fill="#555555" stroke="#555555" stroke-width="0.1" text-anchor="middle">Height (T1)</text>
<text x="152.90" y="262.34" font-size="4.0" fill="#555555" stroke="#555555" stroke-width="0.1" text-anchor="middle">Posterior</text>
<text x="152.90" y="266.74" font-size="4.0" fill="#555555" stroke="#555555" stroke-width="0.1" text-anchor="middle">Face Height</text>
<text x="152.90" y="271.14" font-size="4.0" fill="#555555" stroke="#555555" stroke-width="0.1" text-anchor="middle">(T2)</text>
<text x="176.70" y="262.34" font-size="4.0" fill="#555555" stroke="#555555" stroke-width="0.1" text-anchor="middle">Lower Face</text>
<text x="176.70" y="266.74" font-size="4.0" fill="#555555" stroke="#555555" stroke-width="0.1" text-anchor="middle">Height (T2)</text>
<text x="200.50" y="262.34" font-size="4.0" fill="#555555" stroke="#555555" stroke-width="0.1" text-anchor="middle">Upper Face</text>
<text x="200.50" y="266.74" font-size="4.0" fill="#555555" stroke="#555555" stroke-width="0.1" text-anchor="middle">Height (T2)</text>
<text x="224.30" y="262.34" font-size="4.0" fill="#555555" stroke="#555555" stroke-width="0.1" text-anchor="middle">Overbite</text>
<text x="248.10" y="262.34" font-size="4.0" fill="#555555" stroke="#555555" stroke-width="0.1" text-anchor="middle">Ba-S-N (T2)</text>
<text x="291.9" y="261.05" font-size="3.2" fill="#606060" stroke="#606060" stroke-width="0.08" text-anchor="middle">0</text>
<text x="291.9" y="240.63" font-size="3.2" fill="#606060" stroke="#606060" stroke-width="0.08" text-anchor="middle">5</text>
<text x="291.9" y="220.21" font-size="3.2" fill="#606060" stroke="#606060" stroke-width="0.08" text-anchor="middle">10</text>
<text x="291.9" y="199.79" font-size="3.2" fill="#606060" stroke="#606060" stroke-width="0.08" text-anchor="middle">15</text>
<text x="291.9" y="179.37" font-size="3.2" fill="#606060" stroke="#606060" stroke-width="0.08" text-anchor="middle">20</text>
<text x="291.9" y="158.95" font-size="3.2" fill="#606060" stroke="#606060" stroke-width="0.08" text-anchor="middle">25</text>
<text transform="translate(287.4 208.50) rotate(-90)" font-size="3.1" fill="#606060" stroke="#606060" stroke-width="0.08" text-anchor="middle" dy="1.12">Feature Importance</text>
<text x="308.10" y="263.55" font-size="3.2" fill="#606060" stroke="#606060" stroke-width="0.08" text-anchor="middle">Mandibular</text>
<text x="308.10" y="267.75" font-size="3.2" fill="#606060" stroke="#606060" stroke-width="0.08" text-anchor="middle">Length (T1)</text>
<text x="331.80" y="263.55" font-size="3.2" fill="#606060" stroke="#606060" stroke-width="0.08" text-anchor="middle">Facial Angle</text>
<text x="331.80" y="267.75" font-size="3.2" fill="#606060" stroke="#606060" stroke-width="0.08" text-anchor="middle">(T1)</text>
<text x="355.50" y="263.55" font-size="3.2" fill="#606060" stroke="#606060" stroke-width="0.08" text-anchor="middle">Age (T1)</text>
<text x="379.20" y="263.55" font-size="3.2" fill="#606060" stroke="#606060" stroke-width="0.08" text-anchor="middle">SN - MP (T1)</text>
<text x="402.90" y="263.55" font-size="3.2" fill="#606060" stroke="#606060" stroke-width="0.08" text-anchor="middle">A-N</text>
<text x="402.90" y="267.75" font-size="3.2" fill="#606060" stroke="#606060" stroke-width="0.08" text-anchor="middle">Perpendicular</text>
<text x="402.90" y="271.95" font-size="3.2" fill="#606060" stroke="#606060" stroke-width="0.08" text-anchor="middle">(T1)</text>
<text x="426.60" y="263.55" font-size="3.2" fill="#606060" stroke="#606060" stroke-width="0.08" text-anchor="middle">Convexity</text>
<text x="426.60" y="267.75" font-size="3.2" fill="#606060" stroke="#606060" stroke-width="0.08" text-anchor="middle">Angle (T1)</text>
<text x="450.30" y="263.55" font-size="3.2" fill="#606060" stroke="#606060" stroke-width="0.08" text-anchor="middle">B-N</text>
<text x="450.30" y="267.75" font-size="3.2" fill="#606060" stroke="#606060" stroke-width="0.08" text-anchor="middle">Perpendicular</text>
<text x="450.30" y="271.95" font-size="3.2" fill="#606060" stroke="#606060" stroke-width="0.08" text-anchor="middle">(T1)</text>
<text x="474.00" y="263.55" font-size="3.2" fill="#606060" stroke="#606060" stroke-width="0.08" text-anchor="middle">Pog-N</text>
<text x="474.00" y="267.75" font-size="3.2" fill="#606060" stroke="#606060" stroke-width="0.08" text-anchor="middle">Perpendicular</text>
<text x="474.00" y="271.95" font-size="3.2" fill="#606060" stroke="#606060" stroke-width="0.08" text-anchor="middle">(T1)</text>
<text x="497.70" y="263.55" font-size="3.2" fill="#606060" stroke="#606060" stroke-width="0.08" text-anchor="middle">Lower Face</text>
<text x="497.70" y="267.75" font-size="3.2" fill="#606060" stroke="#606060" stroke-width="0.08" text-anchor="middle">Height (T1)</text>
<text x="521.40" y="263.55" font-size="3.2" fill="#606060" stroke="#606060" stroke-width="0.08" text-anchor="middle">PMA (T1)</text>
</g>
<g filter="url(#soft2)">
<text x="135.9" y="11.00" font-size="5.0" font-weight="bold" fill="#111" stroke="#111" stroke-width="0.12" text-anchor="middle" textLength="162.8" lengthAdjust="spacingAndGlyphs">Top Predictive Factors of Mandibular Length with Lasso (2-year Prediction)</text>
<text x="410.4" y="9.90" font-size="5.0" font-weight="bold" fill="#111" stroke="#111" stroke-width="0.12" text-anchor="middle" textLength="163.5" lengthAdjust="spacingAndGlyphs">Top Predictive Factors of Mandibular Length with Lasso (4-year Prediction)</text>
<text x="135.6" y="150.20" font-size="5.0" font-weight="bold" fill="#111" stroke="#111" stroke-width="0.12" text-anchor="middle" textLength="162.4" lengthAdjust="spacingAndGlyphs">Top Predictive Factors of Mandibular Length with Ridge (2-year Prediction)</text>
<text x="410.3" y="149.20" font-size="5.0" font-weight="bold" fill="#111" stroke="#111" stroke-width="0.12" text-anchor="middle" textLength="162.9" lengthAdjust="spacingAndGlyphs">Top Predictive Factors of Mandibular Length with Ridge (4-year Prediction)</text>
</g>
</svg></body></html>
